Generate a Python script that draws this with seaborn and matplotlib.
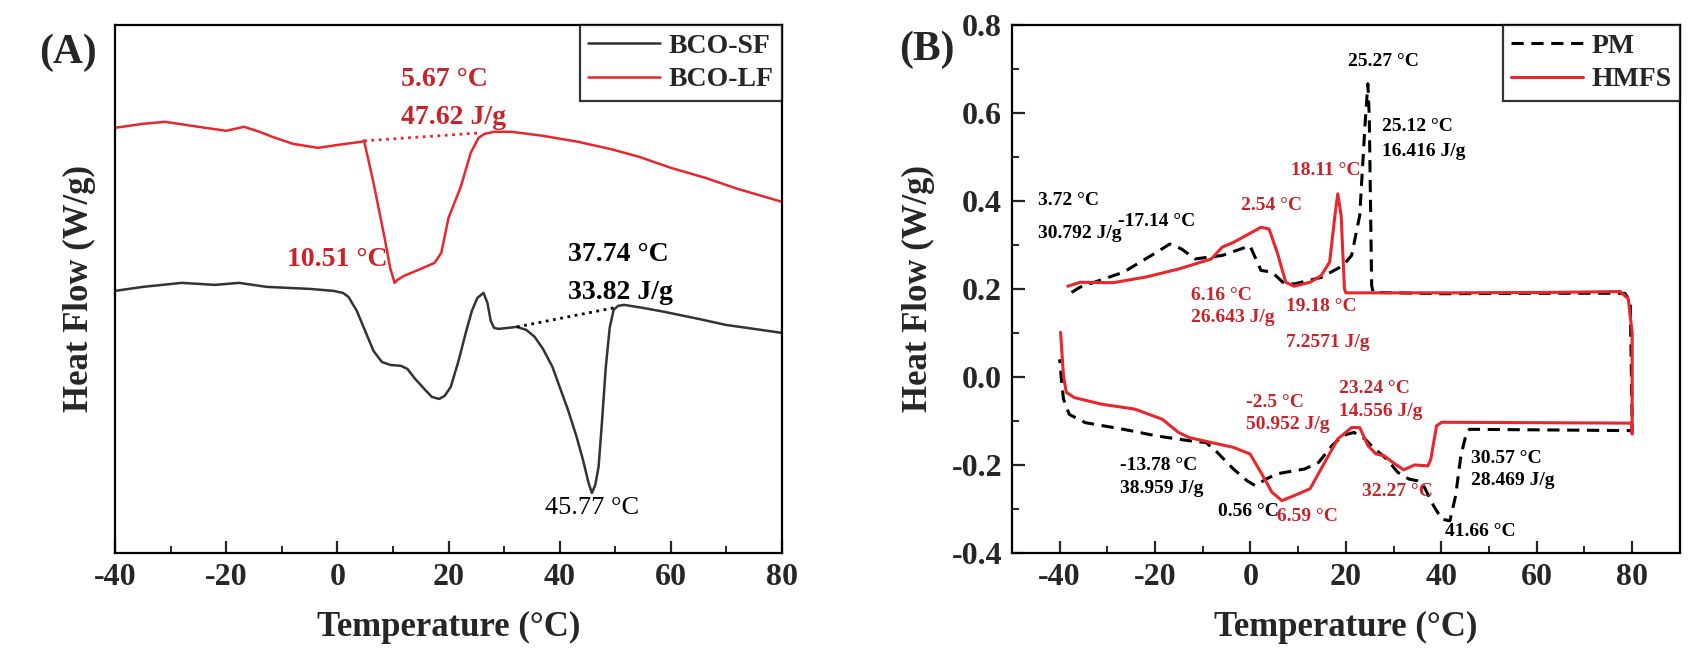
import numpy as np
import pandas as pd
import seaborn as sns
import matplotlib.pyplot as plt
from matplotlib.ticker import MultipleLocator

# --- data (panel A: arbitrary offset units) ---
sf_temp = [-40, -35, -28, -22, -17.7, -12.7, -5, -0.7, 1, 2, 3.5, 5, 6.5, 8, 9.5, 11.5, 12.6,
           14, 15.8, 17, 18.3, 19.3, 20.4, 21.8, 23.1, 24.2, 25.2, 26.3, 27, 27.6, 28.2, 29,
           32.3, 34, 35.5, 37, 38.7, 40, 41.5, 43, 44.2, 45.2, 45.8, 46.4, 47, 47.6, 48.3, 49,
           49.7, 50.5, 51.6, 55, 58.9, 65, 69.9, 75, 80]
sf_flow = [2.62, 2.66, 2.70, 2.68, 2.70, 2.66, 2.64, 2.62, 2.60, 2.56, 2.42, 2.22, 2.02, 1.91,
           1.88, 1.87, 1.84, 1.74, 1.63, 1.56, 1.54, 1.57, 1.66, 1.92, 2.20, 2.42, 2.55, 2.60,
           2.50, 2.32, 2.25, 2.24, 2.26, 2.23, 2.16, 2.04, 1.86, 1.66, 1.43, 1.17, 0.93, 0.70,
           0.60, 0.68, 0.86, 1.30, 1.86, 2.25, 2.43, 2.47, 2.48, 2.45, 2.41, 2.34, 2.28, 2.24,
           2.20]
lf_temp = [-40, -35, -31.0, -25, -20.0, -16.8, -14, -11.7, -8, -3.5, 0.2, 4.3, 4.8, 5.5, 6.5,
           8.5, 9.5, 10.3, 10.8, 12, 15, 17.5, 18.7, 20, 22.2, 24, 25.4, 26.5, 28.2, 31.4, 37,
           43.3, 49, 54.3, 60, 66.2, 72, 80]
lf_flow = [4.25, 4.29, 4.31, 4.26, 4.22, 4.26, 4.21, 4.16, 4.09, 4.05, 4.08, 4.11, 4.12, 3.95,
           3.70, 3.15, 2.85, 2.70, 2.73, 2.77, 2.84, 2.90, 3.00, 3.35, 3.66, 4.00, 4.15, 4.19,
           4.21, 4.21, 4.17, 4.11, 4.04, 3.96, 3.85, 3.75, 3.64, 3.51]
sf_base_t, sf_base_y = [32.3, 49.7], [2.26, 2.45]
lf_base_t, lf_base_y = [4.8, 25.9], [4.12, 4.20]

# --- panel B ---
pm_temp = [-37.5, -35.7, -26.6, -19.7, -16.9, -14.5, -11.6, -5.9, -0.1, 2.2, 4.5, 6.8, 9.1,
           14.8, 19.4, 21.2, 22.9, 24.0, 24.6, 24.9, 25.4, 25.7, 40, 60, 78.5, 79.6, 80,
           80, 45.9, 45.3, 44.1, 43.0, 41.8, 40.1, 38.4, 36.1, 35.0, 33.2, 30.9, 28.6, 25.7,
           24.0, 21.7, 19.4, 17.1, 14.3, 11.4, 5.6, 3.3, 1.0, -0.7, -3.6, -7.0, -9.3, -12.8,
           -19.7, -26.6, -34.6, -38.0, -39.2, -39.5, -40]
pm_flow = [0.192, 0.204, 0.238, 0.283, 0.302, 0.291, 0.268, 0.276, 0.298, 0.242, 0.238, 0.215,
           0.211, 0.226, 0.253, 0.276, 0.367, 0.571, 0.666, 0.594, 0.208, 0.192, 0.189, 0.190,
           0.190, 0.17, -0.10, -0.122, -0.119, -0.126, -0.179, -0.270, -0.327, -0.323, -0.293,
           -0.243, -0.236, -0.232, -0.217, -0.187, -0.160, -0.141, -0.126, -0.133, -0.156,
           -0.194, -0.209, -0.220, -0.232, -0.247, -0.236, -0.209, -0.171, -0.149, -0.145,
           -0.134, -0.119, -0.104, -0.085, -0.050, -0.020, 0.040]
hm_temp = [-38.3, -35.7, -28.8, -21.9, -15.1, -8.2, -5.9, -3.5, 2.2, 3.9, 5.6, 7.4, 9.1, 12.5,
           14.8, 16.6, 17.7, 18.3, 19.0, 19.7, 20.0, 40.1, 63.1, 77.5, 79.2, 80, 80, 79.9,
           40.1, 39.0, 37.8, 37.2, 34.4, 32.1, 29.8, 28.0, 26.3, 24.6, 22.9, 21.2, 18.3, 14.8,
           12.5, 9.1, 6.6, 4.5, 2.2, -0.1, -3.6, -8.2, -12.8, -15.1, -18.5, -24.3, -31.2,
           -36.9, -38.6, -39.2, -39.8]
hm_flow = [0.206, 0.215, 0.214, 0.227, 0.245, 0.268, 0.295, 0.306, 0.340, 0.336, 0.283, 0.215,
           0.206, 0.215, 0.230, 0.261, 0.367, 0.416, 0.367, 0.200, 0.191, 0.191, 0.192, 0.194,
           0.177, 0.10, -0.13, -0.105, -0.103, -0.111, -0.187, -0.202, -0.200, -0.211, -0.194,
           -0.179, -0.175, -0.156, -0.115, -0.115, -0.141, -0.209, -0.254, -0.270, -0.281,
           -0.262, -0.217, -0.175, -0.160, -0.149, -0.138, -0.126, -0.096, -0.073, -0.062,
           -0.047, -0.035, 0.003, 0.101]

RED = '#e8262b'
TRED = '#c92329'

sns.set_style('ticks')
plt.rcParams['font.family'] = ['Liberation Serif', 'DejaVu Serif']
plt.rcParams['font.weight'] = 'bold'
plt.rcParams['axes.linewidth'] = 1.6
plt.rcParams['axes.unicode_minus'] = False

fig = plt.figure(figsize=(16.97, 6.57), dpi=100)
axA = fig.add_axes([0.0678, 0.1583, 0.393, 0.804])
axB = fig.add_axes([0.5963, 0.1583, 0.3936, 0.804])

dfA = pd.concat([
    pd.DataFrame({'T': sf_temp, 'HF': sf_flow, 'sample': 'BCO-SF'}),
    pd.DataFrame({'T': lf_temp, 'HF': lf_flow, 'sample': 'BCO-LF'}),
])
sns.lineplot(data=dfA, x='T', y='HF', hue='sample', palette=['#333333', RED],
             sort=False, estimator=None, lw=1.8, ax=axA)
axA.plot(sf_base_t, sf_base_y, ls=':', color='black', lw=2)
axA.plot(lf_base_t, lf_base_y, ls=':', color=RED, lw=2)
axA.set_xlim(-40, 80)
axA.set_ylim(0, 5.28)
axA.set_yticks([])
axA.xaxis.set_major_locator(MultipleLocator(20))
axA.xaxis.set_minor_locator(MultipleLocator(10))

dfB = pd.concat([
    pd.DataFrame({'T': pm_temp, 'HF': pm_flow, 'sample': 'PM'}),
    pd.DataFrame({'T': hm_temp, 'HF': hm_flow, 'sample': 'HMFS'}),
])
sns.lineplot(data=dfB, x='T', y='HF', hue='sample', style='sample',
             palette=['black', RED], dashes=[(4, 2.5), ''], sort=False,
             estimator=None, lw=2.2, ax=axB)
axB.set_xlim(-50, 90)
axB.set_ylim(-0.4, 0.8)
axB.xaxis.set_major_locator(MultipleLocator(20))
axB.xaxis.set_minor_locator(MultipleLocator(10))
axB.yaxis.set_major_locator(MultipleLocator(0.2))
axB.yaxis.set_minor_locator(MultipleLocator(0.1))
axB.yaxis.set_major_formatter(lambda v, p: f'{v:.1f}')

for ax in (axA, axB):
    ax.tick_params(which='major', direction='in', length=9, width=1.6, labelsize=23, pad=7)
    ax.tick_params(which='minor', direction='in', length=5, width=1.4)
    ax.set_xlabel('Temperature (°C)', fontsize=25, fontweight='bold', labelpad=14)
    ax.set_ylabel('Heat Flow (W/g)', fontsize=25, fontweight='bold')
    for s in ax.spines.values():
        s.set_visible(True)
        s.set_color('black')
    leg = ax.legend(loc='upper right', fontsize=20, frameon=True, fancybox=False,
                    edgecolor='black', borderaxespad=0, handlelength=2.6,
                    handletextpad=0.3, borderpad=0.3, labelspacing=0.3)
    leg.get_frame().set_linewidth(1.6)
axA.yaxis.labelpad = 14
axB.yaxis.labelpad = 12

# panel letters
fig.text(0.040, 0.92, '(A)', fontsize=30, fontweight='bold', ha='center', va='center')
fig.text(0.546, 0.925, '(B)', fontsize=30, fontweight='bold', ha='center', va='center')

# panel A annotations
a_kw = dict(fontsize=20, fontweight='bold')
axA.text(11.5, 4.73, '5.67 °C', color=TRED, ha='left', va='center', **a_kw)
axA.text(11.5, 4.35, '47.62 J/g', color=TRED, ha='left', va='center', **a_kw)
axA.text(-9.0, 2.93, '10.51 °C', color=TRED, ha='left', va='center', **a_kw)
axA.text(41.5, 2.98, '37.74 °C', color='black', ha='left', va='center', **a_kw)
axA.text(41.5, 2.60, '33.82 J/g', color='black', ha='left', va='center', **a_kw)
axA.text(45.8, 0.45, '45.77 °C', color='black', ha='center', va='center', fontsize=19,
         fontweight='normal')

# panel B annotations
b_kw = dict(fontsize=14, fontweight='bold', ha='left', va='center')
black_notes = [(20.5, 0.716, '25.27 °C'), (27.5, 0.570, '25.12 °C'), (27.5, 0.511, '16.416 J/g'),
               (-44.5, 0.400, '3.72 °C'), (-44.5, 0.325, '30.792 J/g'),
               (-27.8, 0.352, '-17.14 °C'), (-27.4, -0.202, '-13.78 °C'),
               (-27.4, -0.254, '38.959 J/g'), (-6.9, -0.306, '0.56 °C'),
               (40.8, -0.352, '41.66 °C'), (46.2, -0.186, '30.57 °C'),
               (46.2, -0.236, '28.469 J/g')]
red_notes = [(8.5, 0.468, '18.11 °C'), (-2.0, 0.389, '2.54 °C'), (-12.5, 0.186, '6.16 °C'),
             (-12.5, 0.136, '26.643 J/g'), (7.5, 0.159, '19.18 °C'),
             (7.5, 0.079, '7.2571 J/g'), (-1.0, -0.057, '-2.5 °C'),
             (-1.0, -0.107, '50.952 J/g'), (18.6, -0.027, '23.24 °C'),
             (18.6, -0.079, '14.556 J/g'), (23.3, -0.261, '32.27 °C'),
             (5.5, -0.318, '6.59 °C')]
for x, y, s in black_notes:
    axB.text(x, y, s, color='black', **b_kw)
for x, y, s in red_notes:
    axB.text(x, y, s, color=TRED, **b_kw)

fig.savefig('out.png', dpi=100)
